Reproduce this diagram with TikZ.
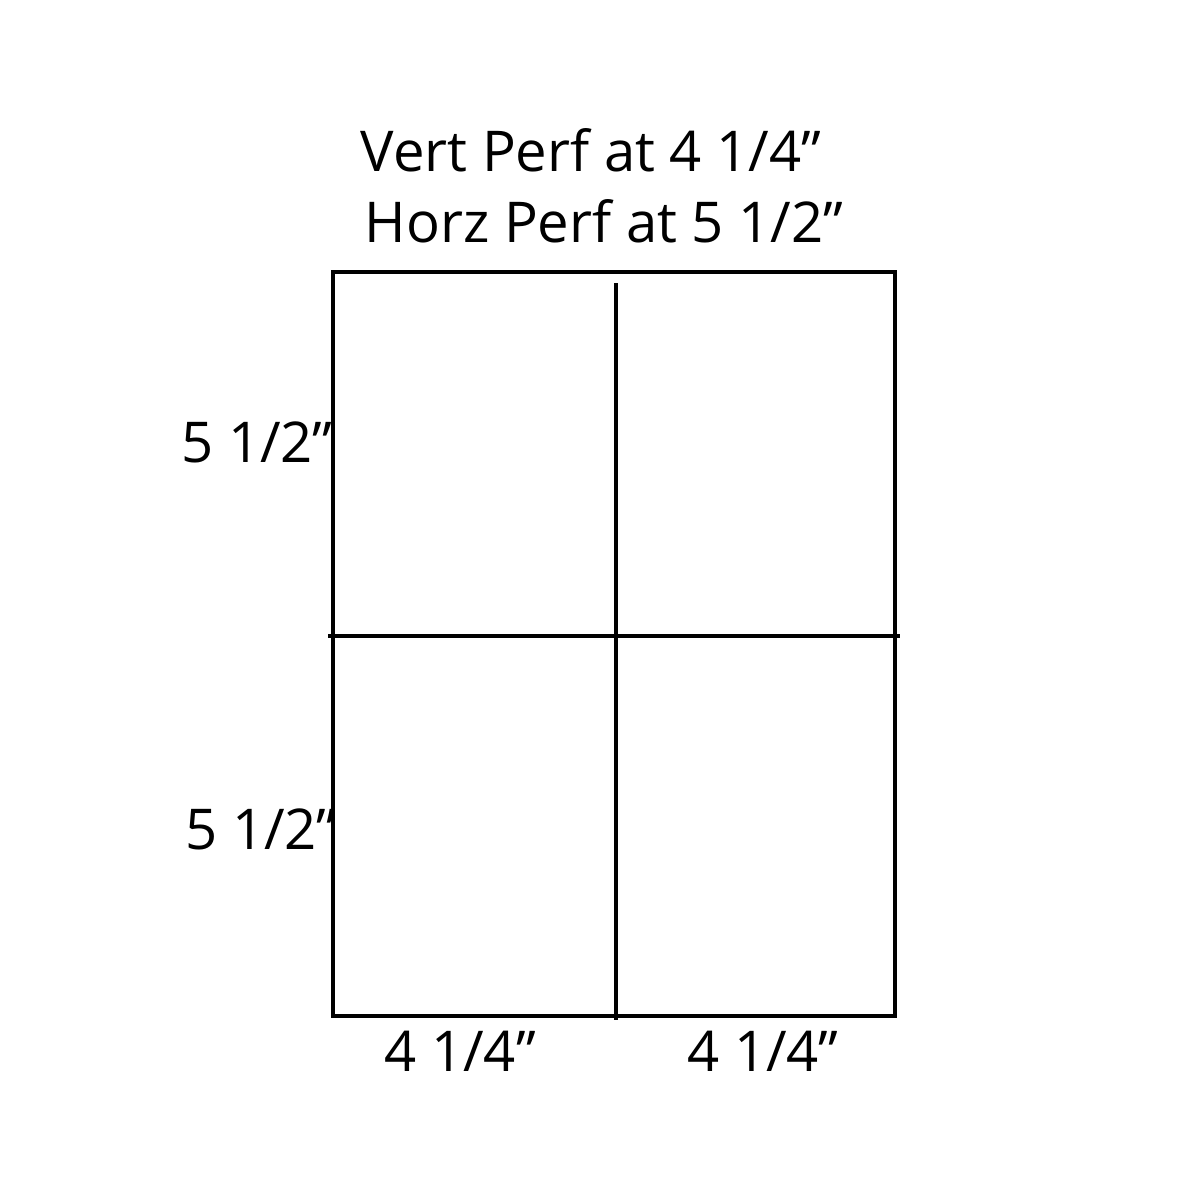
\documentclass[tikz,border=0pt]{standalone}
\usepackage{fontspec}
\setmainfont{Open Sans}
\usepackage{tikz}

\begin{document}
\begin{tikzpicture}[line width=0.9pt,
  lbl/.style={anchor=base, inner sep=0pt, font=\fontsize{16}{19}\selectfont}]
  \useasboundingbox (0,0) rectangle (12,12);

  % sheet and perforations
  \draw (3.33,1.84) rectangle (8.95,9.28);
  \draw (6.16,1.80) -- (6.16,9.17);
  \draw (3.28,5.64) -- (9.00,5.64);

  % title
  \node[lbl] (vert) at (5.91,10.28) {Vert Perf at 4 1/4''};
  \node[lbl] (horz) at (6.04,9.57) {Horz Perf at 5 1/2''};

  % sizes
  \foreach \x/\y/\n in {2.57/7.37/lefttop,2.61/3.50/leftbot} {
    \node[lbl] (\n) at (\x,\y) {5 1/2''};}
  \foreach \x/\y/\n in {4.60/1.28/botleft,7.63/1.28/botright} {
    \node[lbl] (\n) at (\x,\y) {4 1/4''};}
\end{tikzpicture}
\end{document}
